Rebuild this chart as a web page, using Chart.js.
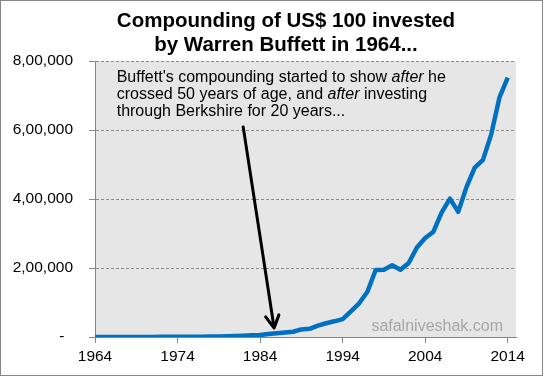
<!DOCTYPE html>
<html>
<head>
<meta charset="utf-8">
<script src="https://cdn.jsdelivr.net/npm/chart.js"></script>
<style>
  html, body { margin: 0; padding: 0; background: #fff; }
  #wrap { position: relative; width: 544px; height: 377px; font-family: "Liberation Sans", Arial, sans-serif; }
  #chart { position: absolute; left: 0; top: 0; }
  .title { position: absolute; left: 0; top: 7.6px; width: 572px; text-align: center; font-weight: bold; font-size: 20.5px; line-height: 24px; color: #000; }
  .note { position: absolute; left: 116.7px; top: 67.5px; font-size: 16px; line-height: 17.3px; color: #000; white-space: nowrap; }
  .mark { position: absolute; right: 41px; top: 317.5px; font-size: 16px; line-height: 16px; color: #a6a6a6; white-space: nowrap; }
</style>
</head>
<body>
<div id="wrap">
  <canvas id="chart" width="544" height="377"></canvas>
  <div class="title">Compounding of US$ 100 invested<br>by Warren Buffett in 1964...</div>
  <div class="note">Buffett's compounding started to show <i>after</i> he<br>crossed 50 years of age, and <i>after</i> investing<br>through Berkshire for 20 years...</div>
  <div class="mark">safalniveshak.com</div>
</div>
<script>
// years on the x axis
const years = [1964, 1965, 1966, 1967, 1968, 1969, 1970, 1971, 1972, 1973,
  1974, 1975, 1976, 1977, 1978, 1979, 1980, 1981, 1982, 1983,
  1984, 1985, 1986, 1987, 1988, 1989, 1990, 1991, 1992, 1993,
  1994, 1995, 1996, 1997, 1998, 1999, 2000, 2001, 2002, 2003,
  2004, 2005, 2006, 2007, 2008, 2009, 2010, 2011, 2012, 2013, 2014];

// value of US$ 100
const values = [100, 124, 149, 165, 197, 229, 256, 298, 363, 380,
  401, 488, 778, 1026, 1272, 1727, 2060, 2707, 3789, 5013,
  5695, 8440, 10643, 12718, 15274, 22056, 23688, 33068, 39781, 45470,
  51790, 74112, 97680, 130988, 194257, 195228, 207918, 195027, 214530, 259581,
  286837, 305194, 361350, 401099, 362593, 434387, 490857, 513436, 587371, 694273, 751897];

const xTickYears = [1964, 1974, 1984, 1994, 2004, 2014];
const yTickValues = [0, 200000, 400000, 600000, 800000];
const yTickLabels = ["-  ", "2,00,000", "4,00,000", "6,00,000", "8,00,000"];

// arrow of the note, in data units
const arrowFrom = { x: 1981.95, y: 609000 };
const arrowTo = { x: 1985.7, y: 26000 };

const gray = "#868686";

const extras = {
  id: "extras",
  beforeDraw(chart) {
    const { ctx, chartArea: a } = chart;
    ctx.save();
    ctx.fillStyle = "#e6e6e6";
    ctx.fillRect(a.left, a.top, a.right - a.left, a.bottom - a.top);
    ctx.strokeStyle = gray;
    ctx.lineWidth = 1;
    ctx.strokeRect(0.5, 0.5, 542, 375);
    ctx.restore();
  },
  afterDatasetsDraw(chart) {
    const { ctx, scales } = chart;
    const x1 = scales.x.getPixelForValue(arrowFrom.x), y1 = scales.y.getPixelForValue(arrowFrom.y);
    const x2 = scales.x.getPixelForValue(arrowTo.x), y2 = scales.y.getPixelForValue(arrowTo.y);
    const ang = Math.atan2(y2 - y1, x2 - x1);
    const len = 14, spread = 0.5;
    ctx.save();
    ctx.strokeStyle = "#000";
    ctx.lineWidth = 3;
    ctx.lineCap = "round";
    ctx.lineJoin = "round";
    ctx.beginPath();
    ctx.moveTo(x1, y1);
    ctx.lineTo(x2, y2);
    ctx.moveTo(x2 - len * Math.cos(ang - spread), y2 - len * Math.sin(ang - spread));
    ctx.lineTo(x2, y2);
    ctx.lineTo(x2 - len * Math.cos(ang + spread), y2 - len * Math.sin(ang + spread));
    ctx.stroke();
    ctx.restore();
  }
};

Chart.defaults.font.family = '"Liberation Sans", Arial, sans-serif';

new Chart(document.getElementById("chart"), {
  type: "line",
  data: {
    datasets: [{
      data: years.map((y, i) => ({ x: y, y: values[i] })),
      borderColor: "#0070c0",
      borderWidth: 4.5,
      borderJoinStyle: "round",
      pointRadius: 0,
      tension: 0,
      fill: false
    }]
  },
  options: {
    responsive: false,
    animation: false,
    devicePixelRatio: 1,
    layout: { padding: { top: 61, right: 28, bottom: 0, left: 0 } },
    plugins: { legend: { display: false }, tooltip: { enabled: false }, title: { display: false } },
    scales: {
      x: {
        type: "linear",
        min: 1964,
        max: 2015,
        afterBuildTicks: s => { s.ticks = xTickYears.map(v => ({ value: v })); },
        afterFit: s => { s.height = 40; },
        grid: { drawOnChartArea: false, tickLength: 6, tickColor: gray, color: gray },
        border: { color: gray },
        ticks: { color: "#000", font: { size: 15.5 }, padding: 4, maxRotation: 0, callback: v => String(v) }
      },
      y: {
        min: 0,
        max: 800000,
        afterBuildTicks: s => { s.ticks = yTickValues.map(v => ({ value: v })); },
        afterFit: s => { s.width = 95; },
        grid: {
          color: c => (c.tick && c.tick.value === 0 ? "rgba(0,0,0,0)" : "#8c8c8c"),
          tickColor: gray,
          tickLength: 6,
          tickBorderDash: []
        },
        border: { color: gray, dash: [3, 2] },
        ticks: {
          color: "#000",
          font: { size: 15.5 },
          padding: 16,
          callback: v => yTickLabels[yTickValues.indexOf(v)]
        }
      }
    }
  },
  plugins: [extras]
});
</script>
</body>
</html>
